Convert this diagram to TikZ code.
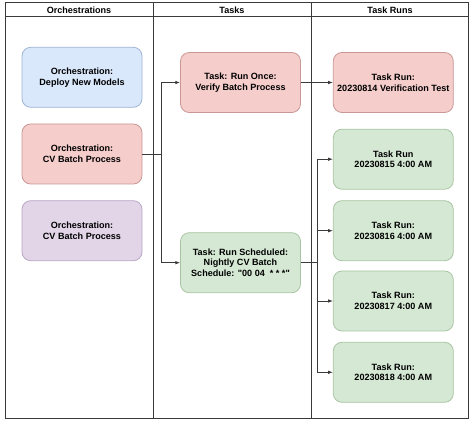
\documentclass[tikz,border=0pt]{standalone}
\usepackage{fontspec}
\setmainfont{Liberation Sans}
\usepackage{tikz}
\usetikzlibrary{arrows.meta}
\tikzset{every picture/.style={line width=0.75pt}}

\definecolor{orchBlue}{HTML}{DAE8FC}
\definecolor{orchBlueLine}{HTML}{9DB3D3}
\definecolor{runRed}{HTML}{F5CDCB}
\definecolor{runRedLine}{HTML}{C99795}
\definecolor{orchPurple}{HTML}{E1D5E7}
\definecolor{orchPurpleLine}{HTML}{B8A5C4}
\definecolor{runGreen}{HTML}{D5E8D4}
\definecolor{runGreenLine}{HTML}{A8C4A2}
\definecolor{laneLine}{HTML}{3A3A3A}

\tikzset{
  flowbox/.style={draw, rounded corners=6.5pt, minimum width=90pt, minimum height=45pt,
    align=center, inner sep=2pt, line width=0.6pt,
    font=\fontsize{6.8}{8.1}\selectfont\bfseries},
  bluebox/.style={flowbox, fill=orchBlue, draw=orchBlueLine},
  redbox/.style={flowbox, fill=runRed, draw=runRedLine},
  purplebox/.style={flowbox, fill=orchPurple, draw=orchPurpleLine},
  greenbox/.style={flowbox, fill=runGreen, draw=runGreenLine},
  lanehead/.style={font=\fontsize{6.8}{8}\selectfont\bfseries},
  link/.style={draw=laneLine, line width=0.6pt, -{Latex[length=3.5pt,width=2.6pt]}},
}

\begin{document}
\begin{tikzpicture}[x=0.75pt,y=0.75pt,yscale=-1,xscale=1]
	\useasboundingbox (0,0) rectangle (474,423);

	%Shape: Swimlane frame
	\draw [draw=laneLine] (5,3) rectangle (468,418);
	\draw [draw=laneLine] (5,17) -- (468,17);
	\draw [draw=laneLine] (153,3) -- (153,418);
	\draw [draw=laneLine] (311.5,3) -- (311.5,418);

	% Text Node
	\node [lanehead] (orchhead) at (79,10) {Orchestrations};
	% Text Node
	\node [lanehead] (taskhead) at (232,10) {Tasks};
	% Text Node
	\node [lanehead] (runhead) at (390,10) {Task Runs};

	%Shape: Orchestrations
	\node [bluebox] (orchdeploy) at (82,77.3) {Orchestration:\\Deploy New Models};
	\node [redbox] (orchbatch) at (82,154) {Orchestration:\\CV Batch Process};
	\node [purplebox] (orchbatchb) at (82,230.7) {Orchestration:\\CV Batch Process};

	%Shape: Tasks
	\node [redbox] (taskonce) at (240.5,82.5) {Task: Run Once:\\Verify Batch Process};
	\node [greenbox] (tasknightly) at (240.5,262.7) {Task: Run Scheduled:\\Nightly CV Batch\\Schedule: \textquotedbl00 04\ \ * * *\textquotedbl};

	%Shape: Task Runs
	\node [redbox] (runverify) at (393.3,82.5) {Task Run:\\20230814 Verification Test};
	\node [greenbox] (runaug15) at (393.3,159.2) {Task Run\\20230815 4:00 AM};
	\node [greenbox] (runaug16) at (393.3,230.7) {Task Run:\\20230816 4:00 AM};
	\node [greenbox] (runaug17) at (393.3,301) {Task Run:\\20230817 4:00 AM};
	\node [greenbox] (runaug18) at (393.3,372.3) {Task Run:\\20230818 4:00 AM};

	%Connectors
	\coordinate (orchfork) at (161,154);
	\coordinate (taskfork) at (317,262.7);
	\draw [draw=laneLine, line width=0.6pt] (orchbatch.east) -- (orchfork);
	\draw [link] (orchfork) |- (taskonce.west);
	\draw [link] (orchfork) |- (tasknightly.west);
	\draw [link] (taskonce.east) -- (runverify.west);
	\draw [draw=laneLine, line width=0.6pt] (tasknightly.east) -- (taskfork);
	\draw [link] (taskfork) |- (runaug15.west);
	\draw [link] (taskfork) |- (runaug16.west);
	\draw [link] (taskfork) |- (runaug17.west);
	\draw [link] (taskfork) |- (runaug18.west);
\end{tikzpicture}
\end{document}
